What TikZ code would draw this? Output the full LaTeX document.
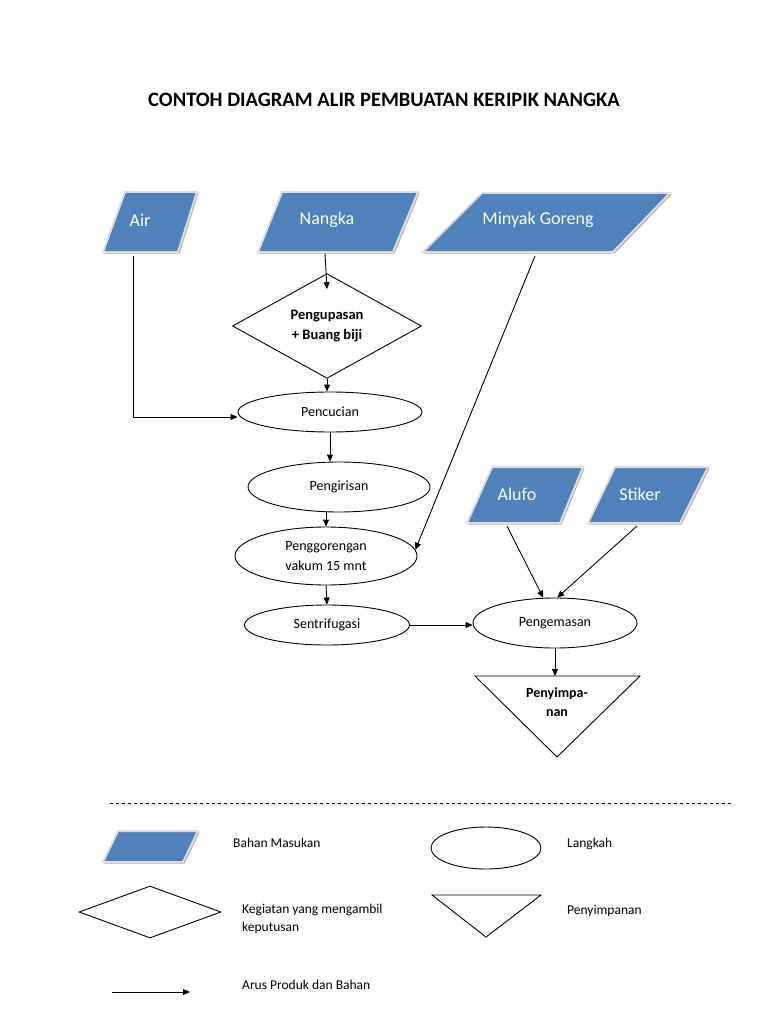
\documentclass[tikz,border=0pt]{standalone}
\usepackage{fontspec}
\setmainfont{Carlito}
\usetikzlibrary{shapes.geometric,arrows.meta,shadows}
\definecolor{biru}{HTML}{4F81BD}
\definecolor{tepi}{HTML}{DDDDDD}
\definecolor{bayang}{HTML}{A9A9A9}

\tikzset{
  bahan/.style={draw=tepi, line width=2pt, fill=biru,
    drop shadow={shadow xshift=1.5pt, shadow yshift=-1.5pt, fill=bayang, opacity=1}},
  bahanteks/.style={text=white, font=\fontsize{18}{21}\selectfont},
  langkah/.style={ellipse, draw, line width=0.9pt, inner sep=0pt, align=center, font=\fontsize{14}{20}\selectfont},
  putusan/.style={diamond, draw, line width=0.9pt, inner sep=0pt, align=center, font=\bfseries\fontsize{14.5}{20}\selectfont},
  arus/.style={-{Triangle[length=7pt,width=6pt]}, line width=0.9pt},
  ket/.style={anchor=west, align=left, inner xsep=0pt, font=\fontsize{13.5}{18}\selectfont}
}

\begin{document}
\begin{tikzpicture}[x=1pt, y=-1pt]
  \useasboundingbox (0,0) rectangle (768,1024);

  % Judul
  \node[font=\bfseries\fontsize{20.5}{24}\selectfont] (judul) at (384,100) {CONTOH DIAGRAM ALIR PEMBUATAN KERIPIK NANGKA};

  % Bahan masukan
  \draw[bahan] (103,252) -- (125,192) -- (197,192) -- (178,252) -- cycle;
  \node[bahanteks] (air) at (140,220) {Air};
  \coordinate (air-kaki) at (133,256);

  \draw[bahan] (258,252) -- (282,192) -- (418,192) -- (393,252) -- cycle;
  \node[bahanteks] (nangka) at (327,220) {Nangka};
  \coordinate (nangka-kaki) at (325,254);

  \draw[bahan] (423,252) -- (482,193) -- (670,193) -- (613,252) -- cycle;
  \node[bahanteks] (minyak) at (538,220) {Minyak Goreng};
  \coordinate (minyak-kaki) at (535,256);

  \draw[bahan] (467,523) -- (492,467) -- (583,467) -- (560,523) -- cycle;
  \node[bahanteks] (alufo) at (517,494) {Alufo};
  \coordinate (alufo-kaki) at (507,526);

  \draw[bahan] (588,523) -- (615,467) -- (708,467) -- (680,523) -- cycle;
  \node[bahanteks] (stiker) at (640,494) {Stiker};
  \coordinate (stiker-kaki) at (637,526);

  % Langkah proses
  \node[putusan, minimum width=189pt, minimum height=82pt] (kupas) at (327,326) {Pengupasan\\+ Buang biji};
  \node[langkah, minimum width=184pt, minimum height=40pt] (cuci) at (330,412) {Pencucian};
  \node[langkah, minimum width=182pt, minimum height=50pt] (iris) at (339,487) {Pengirisan};
  \node[langkah, minimum width=182pt, minimum height=58pt] (goreng) at (326,556) {Penggorengan\\vakum 15 mnt};
  \node[langkah, minimum width=165pt, minimum height=40pt] (sentri) at (327,625) {Sentrifugasi};
  \node[langkah, minimum width=164pt, minimum height=50pt] (kemas) at (555,623) {Pengemasan};

  % Penyimpanan
  \draw[line width=0.9pt] (475,676) -- (640,676) -- (557,757) -- cycle;
  \coordinate (simpan-atas) at (555,676);
  \node[align=center, font=\bfseries\fontsize{14}{19}\selectfont] (simpan) at (557,702) {Penyimpa-\\nan};

  % Arus
  \draw[arus] (air-kaki) |- ([yshift=-5pt]cuci.west);
  \draw[arus] (nangka-kaki) -- ([yshift=-16pt]kupas.north);
  \draw[arus] (kupas.south) -- (kupas.south |- cuci.north);
  \draw[arus] (cuci.south) -- (cuci.south |- iris.north);
  \draw[arus] (iris.south -| goreng.north) -- (goreng.north);
  \draw[arus] (goreng.south) -- (sentri.north);
  \draw[arus] (minyak-kaki) -- (goreng.4);
  \draw[arus] (sentri.east) -- (sentri.east -| kemas.west);
  \draw[arus] (alufo-kaki) -- (kemas.115);
  \draw[arus] (stiker-kaki) -- (kemas.85);
  \draw[arus] (kemas.south) -- (simpan-atas);

  % Keterangan
  \draw[dash pattern=on 3pt off 3pt, line width=0.8pt] (110,803) -- (733,803);
  \draw[bahan] (103,862) -- (118,831) -- (198,831) -- (183,862) -- cycle;
  \node[ket] (ket-bahan) at (233,843) {Bahan Masukan};
  \node[langkah, minimum width=110pt, minimum height=42pt] (leg-langkah) at (486,848) {};
  \node[ket] (ket-langkah) at (567,844) {Langkah};
  \node[putusan, minimum width=142pt, minimum height=52pt] (leg-putusan) at (150,912) {};
  \node[ket] (ket-putusan) at (242,919) {Kegiatan yang mengambil\\keputusan};
  \draw[line width=0.9pt] (432,895) -- (541,895) -- (486,937) -- cycle;
  \node[ket] (ket-simpan) at (567,911) {Penyimpanan};
  \coordinate (leg-a) at (112,992);
  \coordinate (leg-b) at (190,992);
  \draw[arus] (leg-a) -- (leg-b);
  \node[ket] (ket-arus) at (242,985) {Arus Produk dan Bahan};
\end{tikzpicture}
\end{document}
